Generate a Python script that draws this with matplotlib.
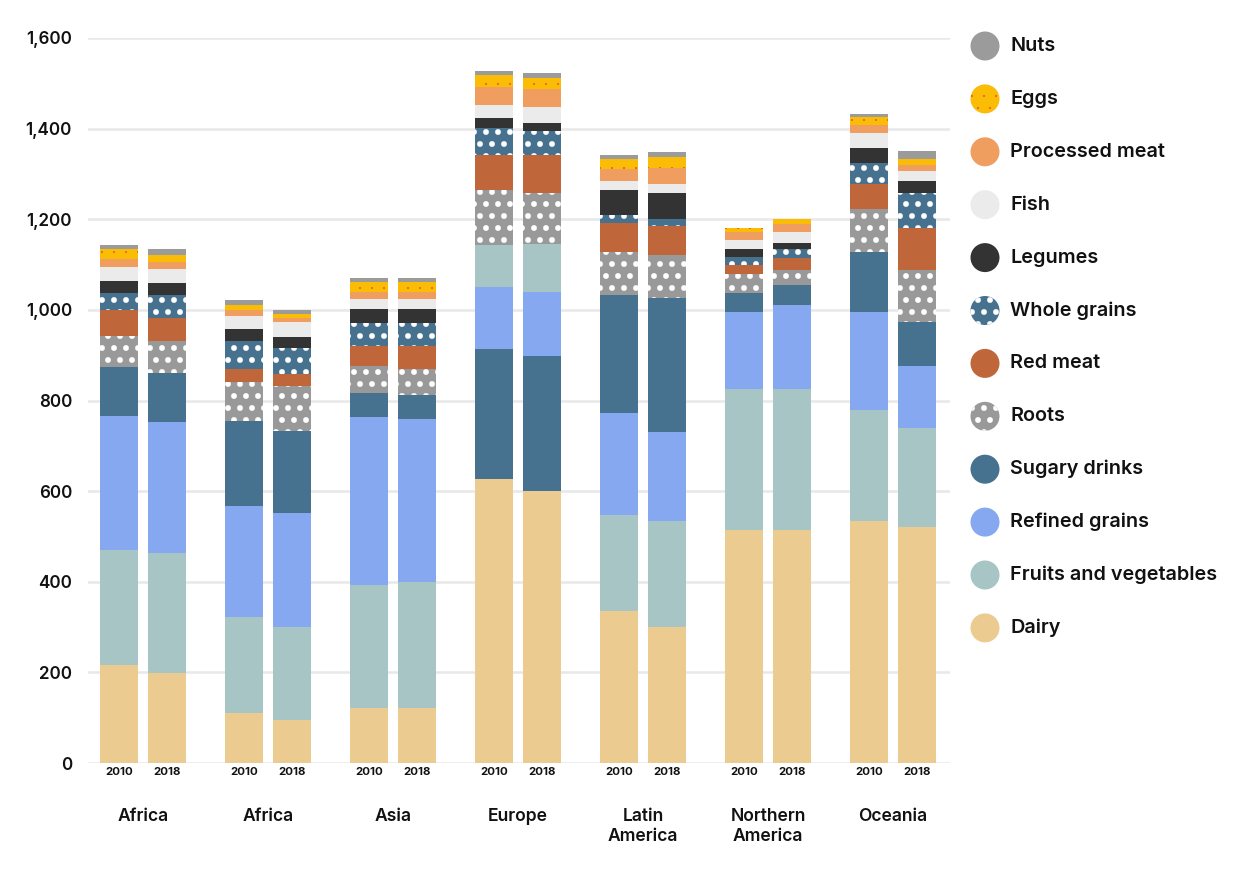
import matplotlib
matplotlib.use('Agg')
import matplotlib.pyplot as plt
import matplotlib.hatch as mhatch
from matplotlib.patches import Circle
import numpy as np

# bigger white dots for '.', tiny filled red dots for 'o'
mhatch.SmallFilledCircles.size = 0.22
mhatch.SmallCircles.size = 0.06
mhatch.SmallCircles.filled = True

plt.rcParams['font.family'] = ['Inter', 'DejaVu Sans']
plt.rcParams['hatch.linewidth'] = 0.5

regions = ['Africa', 'Africa', 'Asia', 'Europe', 'Latin\nAmerica', 'Northern\nAmerica', 'Oceania']
years = ['2010', '2018']

# values per bar: region1 2010, region1 2018, region2 2010, ...
dairy        = [216, 199, 110, 95, 121, 121, 627, 600, 335, 300, 514, 514, 534, 521]
fruits_veg   = [254, 264, 212, 205, 272, 279, 92, 105, 212, 234, 311, 311, 245, 218]
refined      = [295, 290, 245, 252, 371, 359, 137, 142, 225, 196, 170, 186, 216, 137]
sugary       = [109, 108, 188, 181, 53, 53, 287, 298, 261, 296, 42, 44, 133, 97]
roots        = [68, 70, 86, 99, 59, 58, 122, 113, 95, 95, 42, 33, 95, 115]
red_meat     = [58, 51, 29, 26, 44, 50, 77, 84, 64, 64, 20, 26, 55, 93]
whole_grains = [37, 51, 61, 58, 51, 51, 59, 53, 17, 16, 18, 20, 46, 77]
legumes      = [27, 26, 27, 24, 31, 31, 22, 17, 56, 57, 17, 13, 33, 26]
fish         = [31, 31, 29, 33, 22, 22, 29, 36, 19, 20, 20, 25, 33, 22]
processed    = [17, 16, 13, 9, 16, 16, 40, 39, 27, 35, 18, 18, 18, 14]
eggs         = [22, 15, 11, 9, 22, 22, 26, 25, 22, 24, 9, 11, 18, 12]
nuts         = [9, 13, 11, 9, 8, 8, 9, 11, 9, 11, 0, 0, 6, 18]

# name, values, colour, hatch, hatch colour (bottom -> top)
series = [
    ('Dairy', dairy, '#EBCB8F', None, None),
    ('Fruits and vegetables', fruits_veg, '#A8C5C6', None, None),
    ('Refined grains', refined, '#86A8F0', None, None),
    ('Sugary drinks', sugary, '#46728F', None, None),
    ('Roots', roots, '#999999', '.', 'white'),
    ('Red meat', red_meat, '#BF673A', None, None),
    ('Whole grains', whole_grains, '#46728F', '.', 'white'),
    ('Legumes', legumes, '#333333', None, None),
    ('Fish', fish, '#EBEBEB', None, None),
    ('Processed meat', processed, '#EF9E60', None, None),
    ('Eggs', eggs, '#FBBC05', 'o', '#E0542A'),
    ('Nuts', nuts, '#9B9B9B', None, None),
]
# Europe stacks sugary drinks right on dairy
europe_order = ['Dairy', 'Sugary drinks', 'Refined grains', 'Fruits and vegetables']

W, H = 1251, 870
fig = plt.figure(figsize=(W / 72, H / 72), dpi=72)
ax = fig.add_axes([88 / W, 1 - 763 / H, (950 - 88) / W, (763 - 38) / H])

width = 0.304
off = 0.192
xpos = []
for i in range(len(regions)):
    xpos += [i - off, i + off]
xpos = np.array(xpos)

lookup = {s[0]: s for s in series}
for b in range(len(xpos)):
    names = [s[0] for s in series]
    if regions[b // 2] == 'Europe':
        names = europe_order + [n for n in names if n not in europe_order]
    bottom = 0
    for n in names:
        name, vals, col, hatch, hcol = lookup[n]
        v = vals[b]
        if v <= 0:
            continue
        if hatch:
            ax.bar(xpos[b], v, width, bottom=bottom, color=col, hatch=hatch,
                   edgecolor=hcol, linewidth=0)
        else:
            ax.bar(xpos[b], v, width, bottom=bottom, color=col, linewidth=0)
        bottom += v

ax.set_ylim(0, 1600)
ax.set_xlim(-0.44, 6.456)
ax.set_yticks(range(0, 1601, 200))
ax.set_yticklabels(['{:,}'.format(t) for t in range(0, 1601, 200)],
                   fontsize=17, fontweight='semibold', color='#111111')
ax.set_xticks(xpos)
ax.set_xticklabels(years * len(regions), fontsize=11.5, fontweight='bold', color='#111111')
ax.tick_params(axis='y', length=0, pad=16)
ax.tick_params(axis='x', length=0, pad=4)
ax.yaxis.grid(True, color='#E8E8E8', linewidth=2.5)
ax.set_axisbelow(True)
for sp in ax.spines.values():
    sp.set_visible(False)

for i, r in enumerate(regions):
    ax.text(i, -0.062, r, transform=ax.get_xaxis_transform(), ha='center', va='top',
            fontsize=17.5, fontweight='semibold', color='#111111', linespacing=1.22)

# legend, drawn in pixel coords
lax = fig.add_axes([0, 0, 1, 1])
lax.set_xlim(0, W)
lax.set_ylim(H, 0)
lax.axis('off')
for k, s in enumerate(series[::-1]):
    name, vals, col, hatch, hcol = s
    y = 46 + 52.9 * k
    if hatch:
        c = Circle((985, y), 14.5, facecolor=col, hatch=hatch, edgecolor=hcol, linewidth=0)
    else:
        c = Circle((985, y), 14.5, facecolor=col, linewidth=0)
    lax.add_patch(c)
    lax.text(1010, y, name, ha='left', va='center', fontsize=19.8, fontweight='semibold',
             color='#111111')

fig.savefig('out.png', dpi=72)
